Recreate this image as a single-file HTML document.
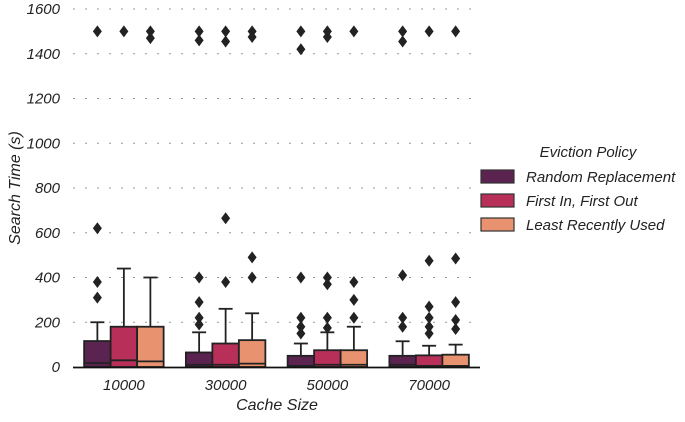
<!DOCTYPE html>
<html><head><meta charset="utf-8"><style>
body{margin:0;background:#fff;width:685px;height:417px;overflow:hidden}
svg{font-family:"Liberation Sans",sans-serif;font-style:italic}
</style></head><body>
<svg id="chart" width="685" height="417"></svg>
<script>
const categories=["10000","30000","50000","70000"];
const series=["Random Replacement","First In, First Out","Least Recently Used"];
const colors=["#5b2350","#b8305a","#e8926f"];
const yTicks=[0,200,400,600,800,1000,1200,1400,1600];
// [q1, median, q3, whiskerHigh]
const rrStats=[[0,18,116,200],[0,10,65,155],[0,5,50,105],[0,10,50,115]];
const fifoStats=[[0,30,180,440],[0,10,105,260],[0,10,75,155],[0,5,52,95]];
const lruStats=[[0,25,180,400],[0,15,120,240],[0,10,75,180],[0,5,55,100]];
const rrOutliers=[[310,380,620,1500],[190,220,290,400,1460,1500],[150,180,220,400,1420,1500],[180,220,410,1455,1500]];
const fifoOutliers=[[1500],[380,665,1455,1500],[175,220,370,400,1475,1500],[150,180,220,270,475,1500]];
const lruOutliers=[[1470,1500],[400,490,1475,1500],[220,300,380,1500],[170,210,290,485,1500]];

const stats=[rrStats,fifoStats,lruStats],outs=[rrOutliers,fifoOutliers,lruOutliers];
const NS="http://www.w3.org/2000/svg",svg=document.getElementById('chart');
const X0=73,X1=480,Y0=367,Y1=9,YMAX=1600;
const y=v=>Y0-(v/YMAX)*(Y0-Y1);
const band=(X1-X0)/categories.length;
const x=i=>X0+band*(i+0.5);
const bw=26.5;
function el(t,a,p){const e=document.createElementNS(NS,t);for(const k in a)e.setAttribute(k,a[k]);(p||svg).appendChild(e);return e;}
yTicks.forEach(t=>{
  if(t>0){const g=el('line',{x1:X0,x2:X1,y1:y(t),y2:y(t),stroke:'#999','stroke-dasharray':'2,10','stroke-width':1});
  
  }
  const l=el('text',{x:60,y:y(t)+5,'text-anchor':'end','font-size':15,fill:'#222'});l.textContent=t;
  
  
});
const yt=el('text',{x:0,y:0,transform:'translate(20,188) rotate(-90)','text-anchor':'middle','font-size':16,fill:'#222'});yt.textContent='Search Time (s)';


categories.forEach((c,i)=>{
  const l=el('text',{x:x(i),y:390,'text-anchor':'middle','font-size':15,fill:'#222'});l.textContent=c;
  
  
  for(let s=0;s<3;s++){
    const [q1,md,q3,wh]=stats[s][i];
    const cx=x(i)+(s-1)*bw;
    const ln=el('line',{x1:cx,x2:cx,y1:y(q3),y2:y(wh),stroke:'#222','stroke-width':1.8});
    
    
    const cap=el('line',{x1:cx-7,x2:cx+7,y1:y(wh),y2:y(wh),stroke:'#222','stroke-width':1.8});
    
    
    const r=el('rect',{x:cx-bw/2,y:y(q3),width:bw,height:y(q1)-y(q3),fill:colors[s],stroke:'#222','stroke-width':1.8});
    
    
    const m=el('line',{x1:cx-bw/2,x2:cx+bw/2,y1:y(md),y2:y(md),stroke:'#222','stroke-width':1.8});
    
    
    outs[s][i].forEach(v=>{
      const p=el('path',{d:`M${cx} ${y(v)-6}L${cx+4.5} ${y(v)}L${cx} ${y(v)+6}L${cx-4.5} ${y(v)}Z`,fill:'#222'});
      
      
    });
  }
});
const ax=el('line',{x1:X0,x2:X1,y1:Y0+0.5,y2:Y0+0.5,stroke:'#111','stroke-width':1.8});


const xt=el('text',{x:277,y:410,'text-anchor':'middle','font-size':16,fill:'#222'});xt.textContent='Cache Size';


const lt=el('text',{x:588,y:157,'text-anchor':'middle','font-size':15,fill:'#222'});lt.textContent='Eviction Policy';


series.forEach((s,i)=>{
  const yy=170+i*24;
  const r=el('rect',{x:481,y:yy,width:33,height:13,fill:colors[i],stroke:'#333','stroke-width':1.2});
  
  
  const t=el('text',{x:526,y:yy+12,'font-size':15,fill:'#222'});t.textContent=s;
  
  
});
</script>
</body></html>
